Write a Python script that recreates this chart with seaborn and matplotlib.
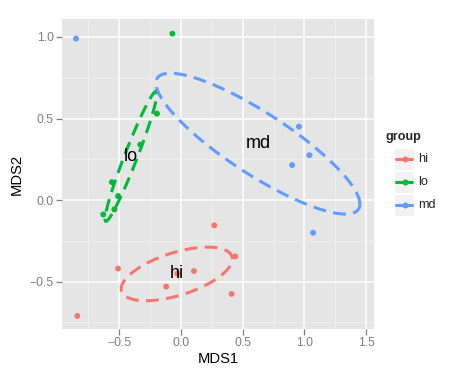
import numpy as np
import pandas as pd
import matplotlib
matplotlib.use("Agg")
import matplotlib.pyplot as plt
import seaborn as sns
from matplotlib.patches import Rectangle
from matplotlib.lines import Line2D

# NMDS scores
hi_x = [-0.84, -0.51, -0.12, 0.105, 0.27, 0.44, 0.41, -0.03]
hi_y = [-0.71, -0.42, -0.53, -0.435, -0.155, -0.345, -0.575, -0.45]
lo_x = [-0.07, -0.195, -0.33, -0.56, -0.51, -0.54, -0.63]
lo_y = [1.02, 0.53, 0.34, 0.11, 0.025, -0.057, -0.088]
md_x = [-0.85, 0.955, 1.04, 0.90, 1.07]
md_y = [0.99, 0.45, 0.275, 0.215, -0.20]
groups = ["hi", "lo", "md"]
colors = {"hi": "#F8766D", "lo": "#00BA38", "md": "#619CFF"}

df = pd.DataFrame({
    "MDS1": hi_x + lo_x + md_x,
    "MDS2": hi_y + lo_y + md_y,
    "group": ["hi"] * len(hi_x) + ["lo"] * len(lo_x) + ["md"] * len(md_x),
})


def cov_ellipse(x, y, npoints=100):
    # same as vegan's veganCovEllipse with scale = 1
    pts = np.column_stack([x, y])
    cov = np.cov(pts, rowvar=False)
    center = pts.mean(axis=0)
    theta = np.arange(npoints + 1) * 2 * np.pi / npoints
    circle = np.column_stack([np.cos(theta), np.sin(theta)])
    L = np.linalg.cholesky(cov)
    return center + circle @ L.T


sns.set_style("darkgrid")
plt.rcParams["font.family"] = ["Liberation Sans", "DejaVu Sans"]

fig = plt.figure(figsize=(4.74, 3.79), dpi=100)
ax = fig.add_axes([62 / 474, 50 / 379, 312 / 474, 310 / 379])
ax.set_facecolor("#E5E5E5")

for g in groups:
    sub = df[df.group == g]
    ell = cov_ellipse(sub.MDS1.values, sub.MDS2.values)
    ax.plot(ell[:, 0], ell[:, 1], color=colors[g], lw=2.2, dashes=(4.2, 2.4),
            zorder=3)

sns.scatterplot(data=df, x="MDS1", y="MDS2", hue="group", palette=colors,
                s=18, edgecolor="none", legend=False, ax=ax, zorder=4)

cent = df.groupby("group")[["MDS1", "MDS2"]].mean()
for g in groups:
    ax.text(cent.loc[g, "MDS1"], cent.loc[g, "MDS2"], g, fontsize=13,
            ha="center", va="center", color="black", zorder=5)

ax.set_xlim(-0.964, 1.563)
ax.set_ylim(-0.79, 1.11)
ax.set_xticks([-0.5, 0.0, 0.5, 1.0, 1.5])
ax.set_yticks([-0.5, 0.0, 0.5, 1.0])
ax.set_xticks([-0.75, -0.25, 0.25, 0.75, 1.25], minor=True)
ax.set_yticks([-0.75, -0.25, 0.25, 0.75], minor=True)
ax.grid(which="major", color="white", lw=1.1)
ax.grid(which="minor", color="#F2F2F2", lw=0.6)
ax.set_axisbelow(True)
for sp in ax.spines.values():
    sp.set_visible(False)
ax.tick_params(which="major", length=4, width=0.9, color="#7F7F7F",
               labelcolor="#7F7F7F", labelsize=8.8, pad=2, direction="out",
               bottom=True, left=True)
ax.tick_params(which="minor", length=0)
ax.set_xlabel("MDS1", fontsize=10.6, color="black", labelpad=2)
ax.set_ylabel("MDS2", fontsize=10.6, color="black", labelpad=4)

# legend drawn in ggplot style
W, H = 474, 379
fig.text(385 / W, 1 - 137 / H, "group", fontsize=9.1, fontweight="bold",
         va="center", ha="left")
for i, g in enumerate(groups):
    yc = 159 + 23 * i
    fig.add_artist(Rectangle((394 / W, 1 - (yc + 11) / H), 20 / W, 22 / H,
                             transform=fig.transFigure, facecolor="#F2F2F2",
                             edgecolor="white", lw=0.8))
    fig.add_artist(Line2D([396 / W, 412 / W], [1 - yc / H] * 2, color=colors[g],
                          lw=2.2, transform=fig.transFigure))
    fig.add_artist(Line2D([405 / W], [1 - yc / H], marker="o", ms=4.3,
                          color=colors[g], mec="none", transform=fig.transFigure))
    fig.text(418 / W, 1 - yc / H, g, fontsize=9.1, va="center", ha="left")

fig.savefig("out.png", dpi=100)
